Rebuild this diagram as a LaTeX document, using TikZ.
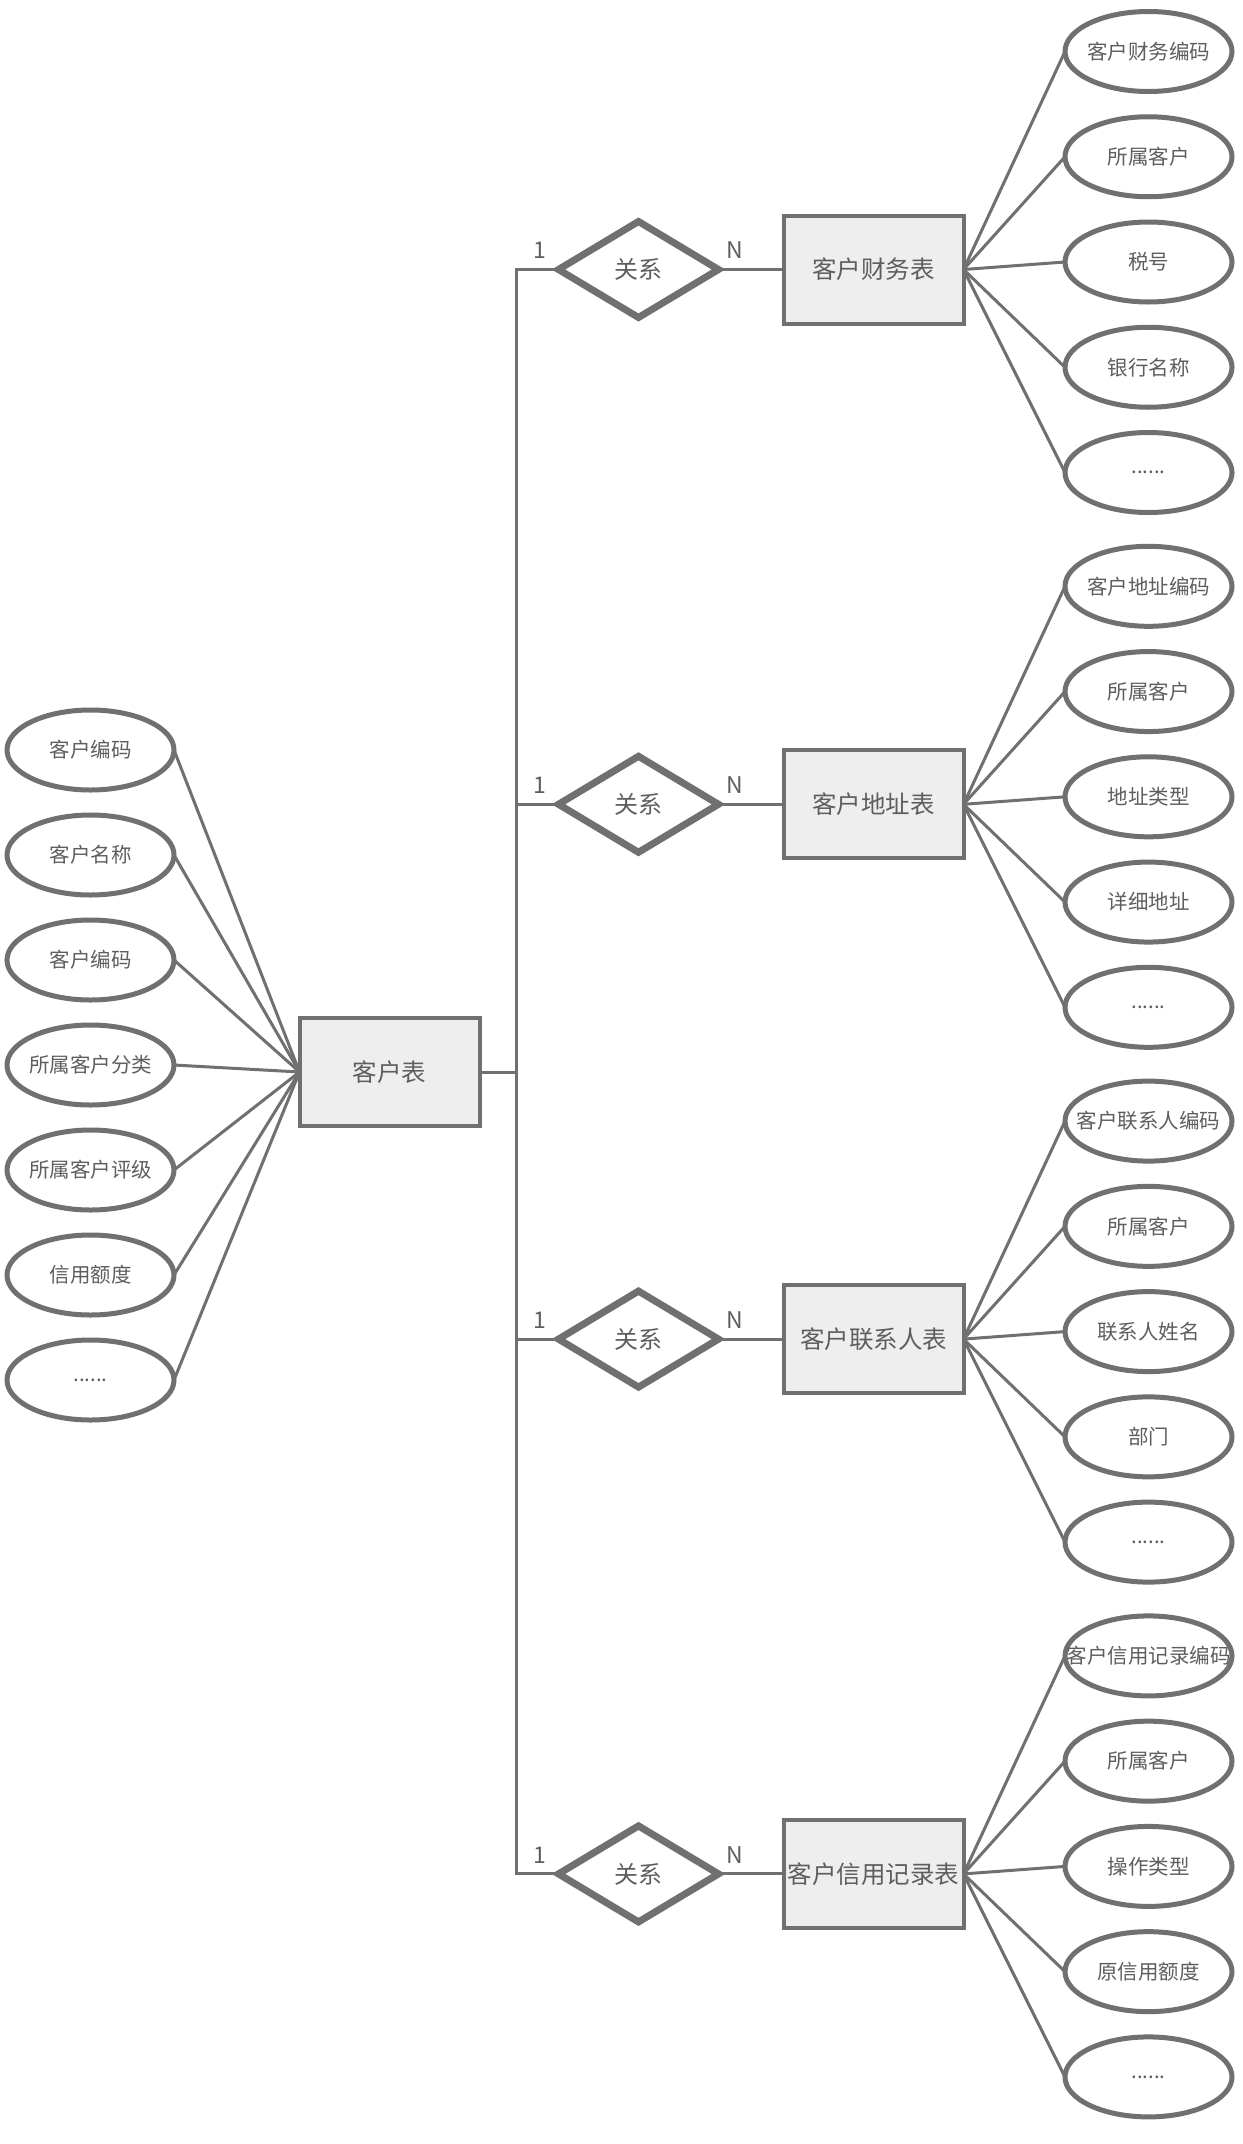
\documentclass[tikz,border=0pt]{standalone}
\usepackage{fontspec}
\setmainfont{Noto Sans CJK SC}
\usetikzlibrary{shapes.geometric}
\definecolor{edgec}{HTML}{707070}
\definecolor{txtc}{HTML}{5E5E5E}
\definecolor{boxfill}{HTML}{EEEEEE}
\newcommand\ztxt[1]{\makebox[0pt]{#1}}
\begin{document}
\begin{tikzpicture}[x=1pt,y=-1pt,
 entity/.style={draw=edgec, fill=boxfill, line width=4pt, minimum width=180pt, minimum height=108pt, inner sep=0pt, outer sep=0pt, text=txtc, font=\fontsize{24.5}{28}\selectfont},
 attr/.style={ellipse, draw=edgec, fill=white, line width=5pt, minimum width=167pt, minimum height=80pt, inner sep=0pt, outer sep=0pt, text=txtc, font=\fontsize{20.5}{24}\selectfont},
 rel/.style={diamond, draw=edgec, fill=white, line width=7pt, minimum width=160pt, minimum height=96pt, inner sep=0pt, outer sep=0pt, text=txtc, font=\fontsize{24}{28}\selectfont},
 conn/.style={draw=edgec, line width=3pt},
 card/.style={text=txtc, font=\fontsize{23}{26}\selectfont, inner sep=0pt}
]
\fill[white] (0,0) rectangle (1242,2144);
\useasboundingbox (0,0) rectangle (1242,2144);

% central entity
\node[entity] (kh) at (389.5,1072) {客户表};
\node[attr] (l1) at (90.5,750) {\ztxt{客户编码}};
\node[attr] (l2) at (90.5,855) {\ztxt{客户名称}};
\node[attr] (l3) at (90.5,960) {\ztxt{客户编码}};
\node[attr] (l4) at (90.5,1065) {\ztxt{所属客户分类}};
\node[attr] (l5) at (90.5,1170) {\ztxt{所属客户评级}};
\node[attr] (l6) at (90.5,1275) {\ztxt{信用额度}};
\node[attr] (l7) at (90.5,1380) {\ztxt{......}};

% groups
\foreach \g/\gy/\tname in {1/269.5/客户财务表, 2/804.3/客户地址表, 3/1339.1/客户联系人表, 4/1873.9/客户信用记录表}{
  \node[rel] (r\g) at (638.5,\gy) {关系};
  \node[entity] (t\g) at (873.5,\gy) {\tname};
  \coordinate (j\g) at (516,\gy);
  \node[card] (o\g) at (540,\gy-19) {1};
  \node[card] (n\g) at (735,\gy-19) {N};
}

% group 1
\node[attr] (a11) at (1148.5,51.5) {\ztxt{客户财务编码}};
\node[attr] (a12) at (1148.5,156.75) {\ztxt{所属客户}};
\node[attr] (a13) at (1148.5,262) {\ztxt{税号}};
\node[attr] (a14) at (1148.5,367.25) {\ztxt{银行名称}};
\node[attr] (a15) at (1148.5,472.5) {\ztxt{......}};
% group 2
\node[attr] (a21) at (1148.5,586.3) {\ztxt{客户地址编码}};
\node[attr] (a22) at (1148.5,691.55) {\ztxt{所属客户}};
\node[attr] (a23) at (1148.5,796.8) {\ztxt{地址类型}};
\node[attr] (a24) at (1148.5,902.05) {\ztxt{详细地址}};
\node[attr] (a25) at (1148.5,1007.3) {\ztxt{......}};
% group 3
\node[attr] (a31) at (1148.5,1121.1) {\ztxt{客户联系人编码}};
\node[attr] (a32) at (1148.5,1226.35) {\ztxt{所属客户}};
\node[attr] (a33) at (1148.5,1331.6) {\ztxt{联系人姓名}};
\node[attr] (a34) at (1148.5,1436.85) {\ztxt{部门}};
\node[attr] (a35) at (1148.5,1542.1) {\ztxt{......}};
% group 4
\node[attr] (a41) at (1148.5,1655.9) {\ztxt{客户信用记录编码}};
\node[attr] (a42) at (1148.5,1761.15) {\ztxt{所属客户}};
\node[attr] (a43) at (1148.5,1866.4) {\ztxt{操作类型}};
\node[attr] (a44) at (1148.5,1971.65) {\ztxt{原信用额度}};
\node[attr] (a45) at (1148.5,2076.9) {\ztxt{......}};

% connectors
\foreach \i in {1,...,7} \draw[conn] (l\i.east) -- (kh.west);
\draw[conn] (kh.east) -- (kh.east -| j1);
\draw[conn] (r1.west) -- (j1) -- (j4) -- (r4.west);
\draw[conn] (j2) -- (r2.west);
\draw[conn] (j3) -- (r3.west);
\foreach \g in {1,...,4}{
  \draw[conn] (r\g.east) -- (t\g.west);
  \foreach \i in {1,...,5} \draw[conn] (t\g.east) -- (a\g\i.west);
}
\end{tikzpicture}
\end{document}
